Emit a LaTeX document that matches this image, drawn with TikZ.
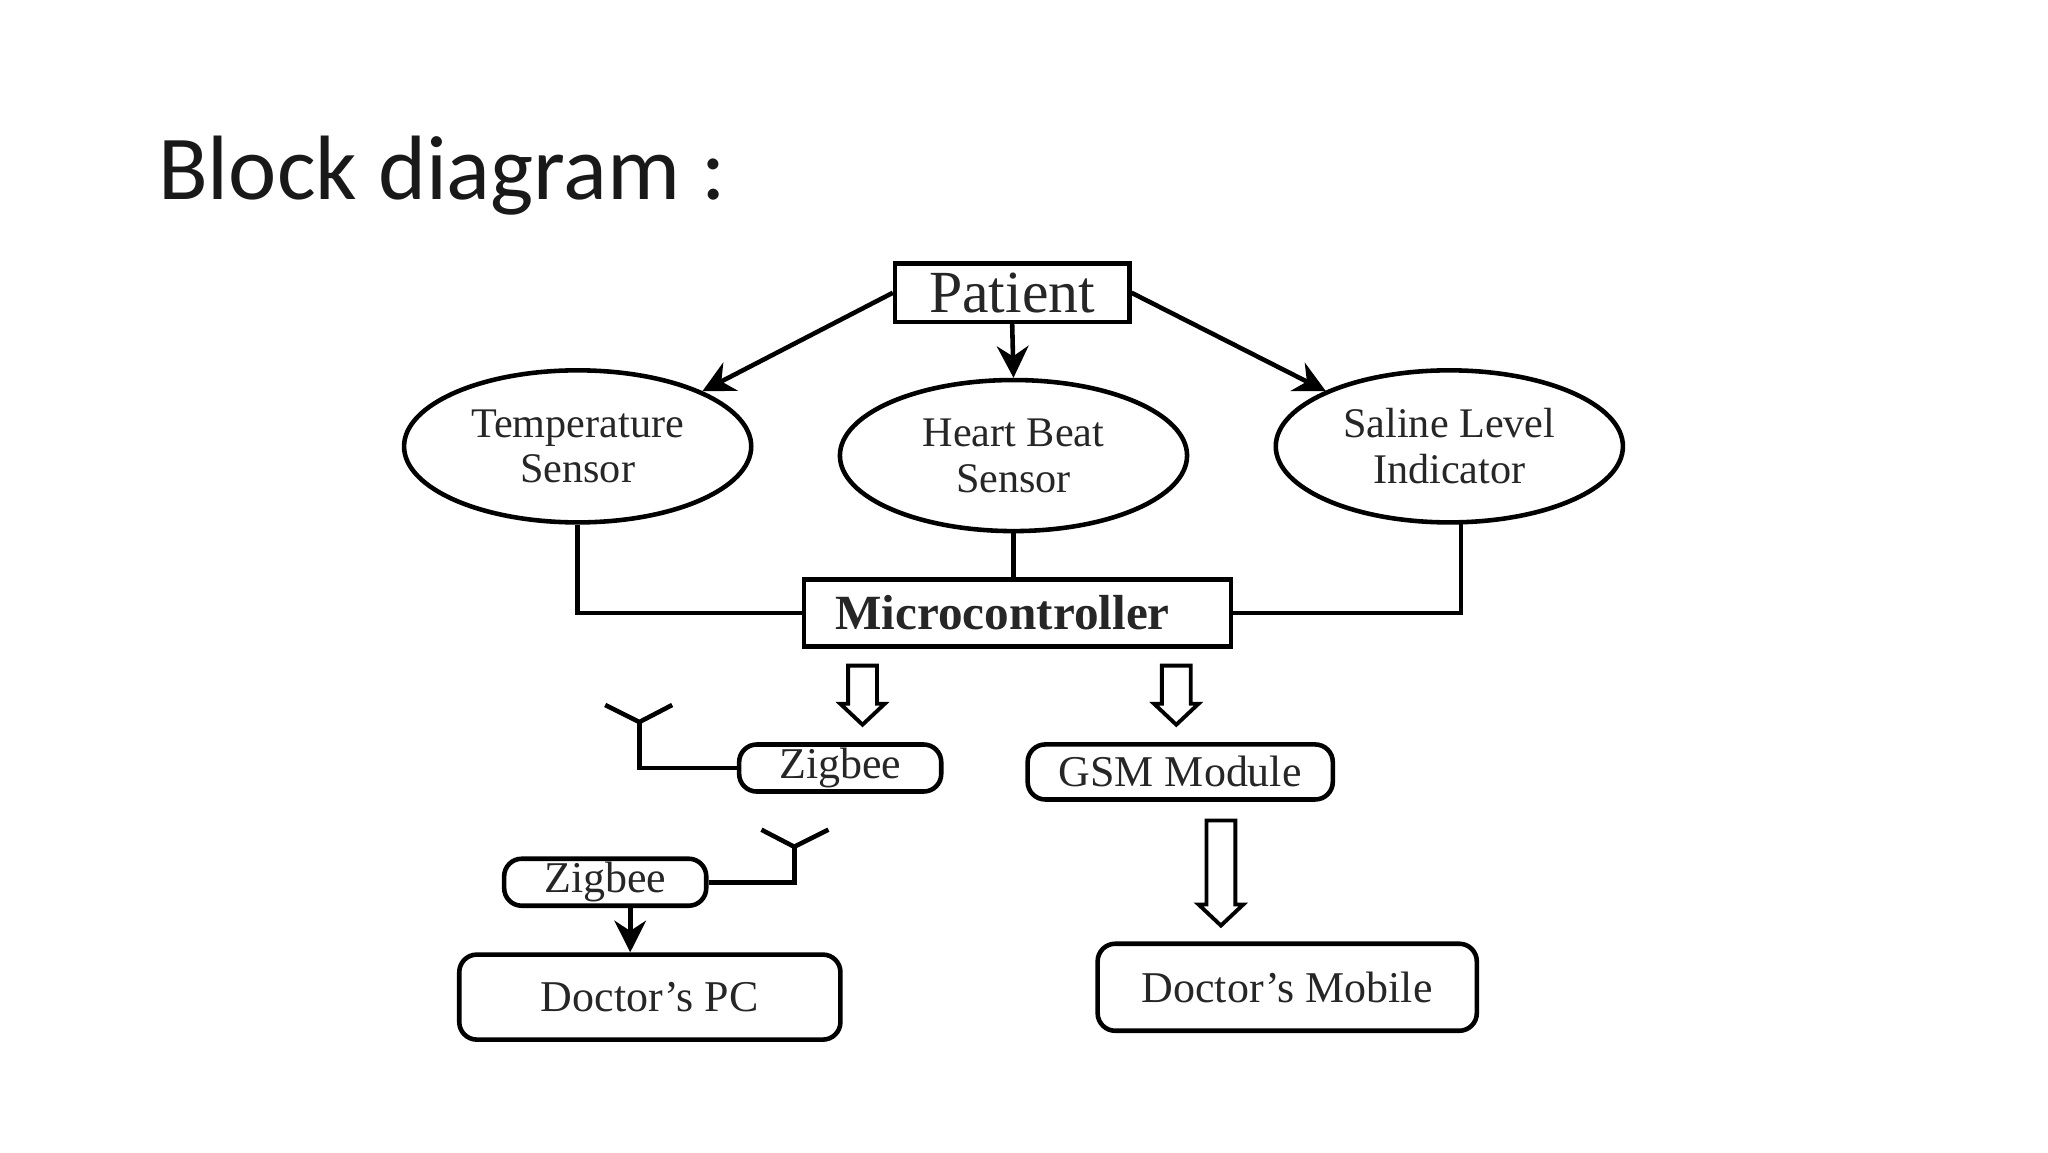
\documentclass[tikz,border=0pt]{standalone}
\usepackage{fontspec}
\setmainfont{Liberation Serif}
\newfontfamily\titlefont{Carlito}
\usetikzlibrary{arrows.meta,calc,shapes.geometric}
\newcommand\hollowdown[3]{% x, top y, bottom y (head 16 high)
  \draw[line width=1.1pt,line join=miter]
    (#1-11,#2) -- (#1+11,#2) -- (#1+11,#3-16) -- (#1+17,#3-16) -- (#1,#3)
    -- (#1-17,#3-16) -- (#1-11,#3-16) -- cycle;}
\begin{document}
\begin{tikzpicture}[x=0.013128cm,y=-0.013128cm,
  every node/.style={inner sep=0pt},
  box/.style={draw,line width=1.3pt,text=black!85},
  rbox/.style={box,rounded corners=5pt,font=\fontsize{12.5}{14}\selectfont},
  oval/.style={draw,ellipse,line width=1.3pt,align=center,font=\fontsize{12}{13}\selectfont,text=black!85},
  ln/.style={line width=1.3pt},
  arr/.style={ln,-{Stealth[length=9pt,width=9pt]}}]
\useasboundingbox (0,0) rectangle (1560,877.5);
\node[anchor=base west,font=\titlefont\fontsize{26}{30}\selectfont,text=black!90] (title) at (120,152) {Block diagram :};

\node[box,minimum width=2.34cm,minimum height=0.58cm,font=\fontsize{17}{18}\selectfont] (pat) at (771,223) {Patient};
\node[oval,minimum width=3.47cm,minimum height=1.52cm] (temp) at (440,340) {Temperature\\Sensor};
\node[oval,minimum width=3.47cm,minimum height=1.51cm] (heart) at (772,347) {Heart Beat\\Sensor};
\node[oval,minimum width=3.47cm,minimum height=1.52cm] (sal) at (1104,340) {Saline Level\\Indicator};
\node[box,minimum width=4.27cm,minimum height=0.67cm,font=\bfseries\fontsize{14}{16}\selectfont] (mc) at (775,467) {\hspace*{-0.3cm}Microcontroller};

\node[rbox,minimum width=2.02cm,minimum height=0.47cm] (zb1) at (640,585) {Zigbee};
\node[rbox,minimum width=2.02cm,minimum height=0.47cm] (zb2) at (461,672) {Zigbee};
\node[rbox,minimum width=3.81cm,minimum height=0.85cm] (pc) at (495,759.5) {Doctor's PC};
\node[rbox,minimum width=3.05cm,minimum height=0.55cm] (gsm) at (899,588) {GSM Module};
\node[rbox,minimum width=3.79cm,minimum height=0.87cm] (mob) at (980.5,752) {Doctor's Mobile};

\draw[arr] (pat.west) -- (535,298);
\draw[arr] (pat.south) -- (heart.north);
\draw[arr] (pat.east) -- (1010,298);

\draw[ln] (temp.south) |- (mc.west);
\draw[ln] (heart.south) -- (heart.south |- mc.north);
\draw[ln] (1113,397) |- (mc.east);

\hollowdown{657}{507}{552}
\hollowdown{896}{507}{552}
\hollowdown{930}{625}{705}

\coordinate (a1) at (487,550);
\draw[ln] (zb1.west) -| (a1);
\draw[ln] (461,537) -- (a1) -- (512,537);
\coordinate (a2) at (605,645);
\draw[ln] (zb2.east) -| (a2);
\draw[ln] (580,632) -- (a2) -- (631,632);

\draw[arr] ([xshift=0.25cm]zb2.south) -- ([xshift=0.25cm]zb2.south |- pc.north);
\end{tikzpicture}
\end{document}
